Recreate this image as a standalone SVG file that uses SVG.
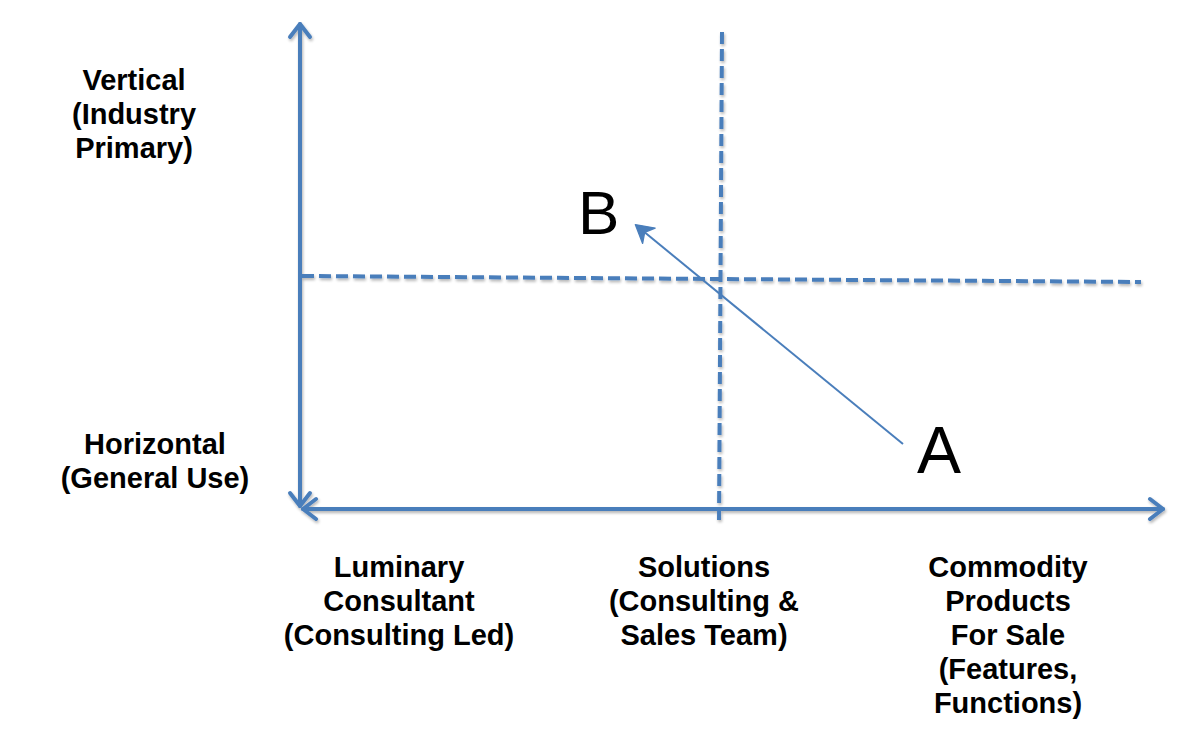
<svg xmlns="http://www.w3.org/2000/svg" width="1190" height="732" viewBox="0 0 1190 732">
<defs>
<style>
.lbl{font-family:"Liberation Sans",Arial,sans-serif;font-weight:bold;font-size:29px;fill:#000;text-anchor:middle}
.big{font-family:"Liberation Sans",Arial,sans-serif;fill:#000}
.axis{stroke:#4A7EBB;stroke-width:4;fill:none;stroke-linecap:round;stroke-linejoin:round}
.dash{stroke:#4A7EBB;stroke-width:4;fill:none;stroke-dasharray:12 5}
.thin{stroke:#4A7EBB;stroke-width:2;fill:none}
</style>
<marker id="ah" viewBox="0 0 10 10" refX="8" refY="5" markerWidth="11" markerHeight="11" orient="auto" markerUnits="strokeWidth">
<path d="M9,5 L1,0.5 L3.5,5 L1,9.5 Z" fill="#4A7EBB" stroke="#4A7EBB" stroke-width="0.6" stroke-linejoin="round"/>
</marker>
<filter id="sh" x="-5%" y="-5%" width="110%" height="110%">
<feGaussianBlur in="SourceAlpha" stdDeviation="1.5"/>
<feOffset dx="1" dy="2" result="b"/>
<feComponentTransfer><feFuncA type="linear" slope="0.3"/></feComponentTransfer>
<feMerge><feMergeNode/><feMergeNode in="SourceGraphic"/></feMerge>
</filter>
</defs>
<g id="connectors">
<g filter="url(#sh)">
<line class="axis" x1="300" y1="24" x2="300" y2="506"/>
<polyline class="axis" points="290,37 300,24 310,37"/>
<polyline class="axis" points="290,493 300,506 310,493"/>
<line class="axis" x1="303" y1="509" x2="1163" y2="509"/>
<polyline class="axis" points="316,499 303,509 316,519"/>
<polyline class="axis" points="1150,499 1163,509 1150,519"/>
<line class="dash" x1="722" y1="32" x2="719" y2="522"/>
<line class="dash" x1="302" y1="276" x2="1141" y2="282"/>
</g>
<line class="thin" x1="903" y1="444" x2="637" y2="226" marker-end="url(#ah)"/>
</g>
<g id="node-vertical"><text class="lbl" x="134" y="90">Vertical</text><text class="lbl" x="134" y="124">(Industry</text><text class="lbl" x="134" y="158">Primary)</text></g>
<g id="node-horizontal"><text class="lbl" x="155" y="454">Horizontal</text><text class="lbl" x="155" y="488">(General Use)</text></g>
<g id="node-luminary"><text class="lbl" x="399" y="577">Luminary</text><text class="lbl" x="399" y="611">Consultant</text><text class="lbl" x="399" y="645">(Consulting Led)</text></g>
<g id="node-solutions"><text class="lbl" x="704" y="577">Solutions</text><text class="lbl" x="704" y="611">(Consulting &amp;</text><text class="lbl" x="704" y="645">Sales Team)</text></g>
<g id="node-commodity"><text class="lbl" x="1008" y="577">Commodity</text><text class="lbl" x="1008" y="611">Products</text><text class="lbl" x="1008" y="645">For Sale</text><text class="lbl" x="1008" y="679">(Features,</text><text class="lbl" x="1008" y="713">Functions)</text></g>
<g id="node-b"><text class="big" x="578" y="234" font-size="62">B</text></g>
<g id="node-a"><text class="big" x="917" y="473" font-size="66">A</text></g>
</svg>
